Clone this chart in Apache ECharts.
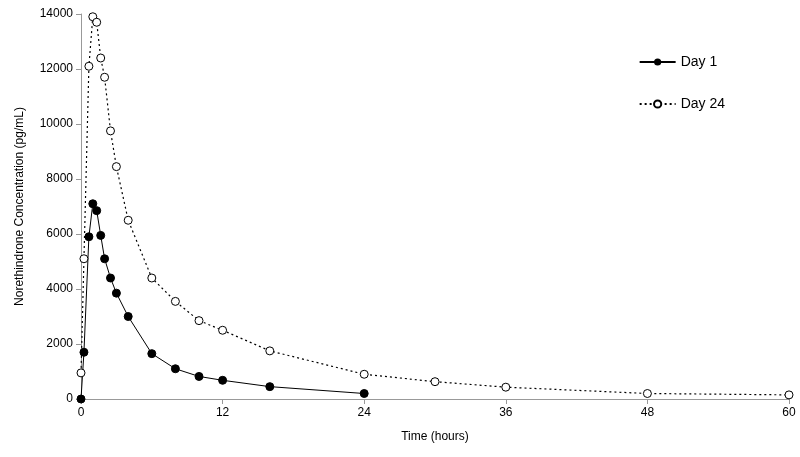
<!DOCTYPE html>
<html>
<head>
<meta charset="utf-8">
<script src="https://cdn.jsdelivr.net/npm/echarts@6/dist/echarts.min.js"></script>
<style>html,body{margin:0;background:#fff}#chart{width:800px;height:457px}</style>
</head>
<body>
<div id="chart"></div>
<script>
const day1Hours = [0, 0.25, 0.67, 1, 1.33, 1.67, 2, 2.5, 3, 4, 6, 8, 10, 12, 16, 24];
const day1Conc = [0, 1700, 5900, 7100, 6850, 5950, 5100, 4400, 3850, 3000, 1650, 1100, 820, 680, 450, 200];
const day24Hours = [0, 0.25, 0.67, 1, 1.33, 1.67, 2, 2.5, 3, 4, 6, 8, 10, 12, 16, 24, 30, 36, 48, 60];
const day24Conc = [950, 5100, 12100, 13900, 13700, 12400, 11700, 9750, 8450, 6500, 4400, 3550, 2850, 2500, 1750, 900, 630, 430, 200, 150];

const chart = echarts.init(document.getElementById("chart"));
const font = "Liberation Sans, Arial, sans-serif";
const axisLine = { lineStyle: { color: "#999" } };

chart.setOption({
    animation: false,
    textStyle: { fontFamily: font },
    grid: { left: 81, right: 11, top: 14, bottom: 58 },
    legend: {
        orient: "vertical", right: 70, top: 50, itemGap: 28, itemWidth: 36, itemHeight: 9,
        textStyle: { fontSize: 14, color: "#000" },
        data: ["Day 1", "Day 24"]
    },
    xAxis: {
        type: "value", min: 0, max: 60, interval: 12,
        name: "Time (hours)", nameLocation: "middle", nameGap: 32,
        nameTextStyle: { fontSize: 12, color: "#000" },
        axisLine: axisLine, axisTick: { show: true, lineStyle: { color: "#999" } },
        axisLabel: { color: "#000", fontSize: 12 },
        splitLine: { show: false }
    },
    yAxis: {
        type: "value", min: 0, max: 14000, interval: 2000,
        name: "Norethindrone Concentration (pg/mL)", nameLocation: "middle", nameGap: 55,
        nameTextStyle: { fontSize: 12, color: "#000" },
        axisLine: { show: true, lineStyle: { color: "#999" } },
        axisTick: { show: true, lineStyle: { color: "#999" } },
        axisLabel: { color: "#000", fontSize: 12, formatter: v => String(v) },
        splitLine: { show: false }
    },
    series: [
        {
            name: "Day 1", type: "line",
            data: day1Hours.map((h, i) => [h, day1Conc[i]]),
            symbol: "circle", symbolSize: 8,
            lineStyle: { color: "#000", width: 1 },
            itemStyle: { color: "#000", borderColor: "#000" }
        },
        {
            name: "Day 24", type: "line",
            data: day24Hours.map((h, i) => [h, day24Conc[i]]),
            symbol: "circle", symbolSize: 8,
            lineStyle: { color: "#000", width: 1.2, type: [2, 3] },
            itemStyle: { color: "#fff", borderColor: "#000", borderWidth: 1 }
        }
    ]
});
</script>
</body>
</html>
